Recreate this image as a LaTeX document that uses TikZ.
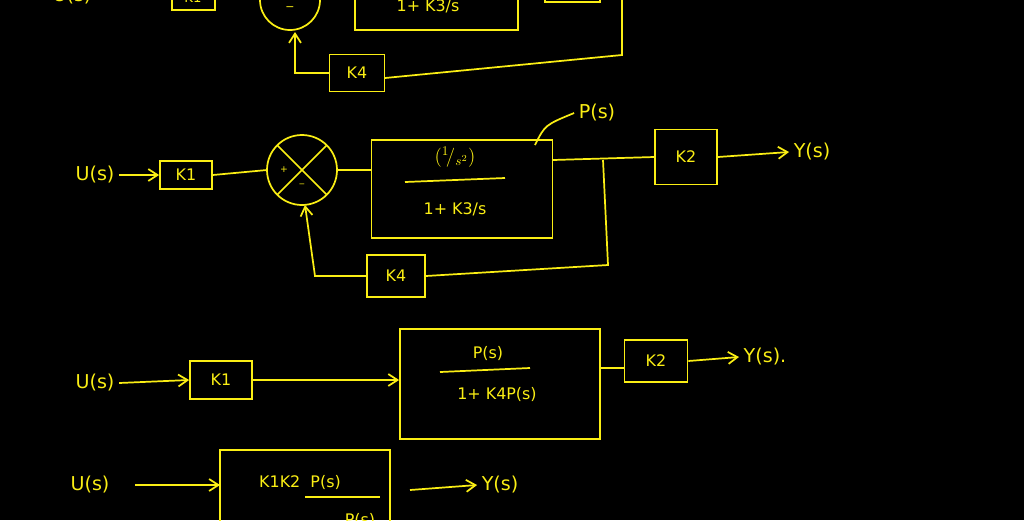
\documentclass[tikz,border=0pt]{standalone}
\usepackage{fontspec}
\setmainfont{DejaVu Sans}
\usetikzlibrary{arrows.meta}
\definecolor{hy}{RGB}{250,238,20}
\begin{document}
\begin{tikzpicture}[x=0.0265cm,y=-0.0265cm,
  ln/.style={draw=hy,line width=1.3pt},
  ar/.style={ln,-{Straight Barb[length=7pt,width=9pt]}},
  blk/.style={draw=hy,line width=1.3pt,text=hy,inner sep=0pt,font=\large},
  lbl/.style={text=hy,font=\Large}]
\fill[black] (0,0) rectangle (1024,520);
\useasboundingbox (0,0) rectangle (1024,520);
\begin{scope}
\clip (0,0) rectangle (1024,520);
% ---- top (cut) ----
\node[lbl] (u0) at (72,-4) {U(s)};
\draw[ln] (172,-12) rectangle (215,10);
\node[text=hy] (k10) at (193,-2) {K1};
\draw[ln] (290,0) circle (30);
\node[text=hy] (m0) at (290,6) {\_};
\draw[ln] (355,-20) rectangle (518,30);
\node[text=hy,font=\large] (t0) at (428,6) {1+ K3/s};
\draw[ln] (545,-10) rectangle (600,2);
\draw[ln] (600,-5) -- (622,-5) -- (622,55) -- (385,78);
\node[blk,minimum width=55*0.0265cm,minimum height=37*0.0265cm] (k40) at (357,73) {K4};
\draw[ar] (k40.west) -- (295,73) -- (295,32);
% ---- middle ----
\node[lbl] (u1) at (95,175) {U(s)};
\node[blk,minimum width=52*0.0265cm,minimum height=28*0.0265cm] (k11) at (186,175) {K1};
\draw[ar] (u1.east) -- (k11.west);
\coordinate (c1) at (302,170);
\draw[ln] (c1) circle (35);
\draw[ln] (277,145) -- (327,195) (277,195) -- (327,145);
\node[text=hy,font=\scriptsize] at (284,170) {+};
\node[text=hy,font=\scriptsize] at (302,184) {\_};
\draw[ln] (k11.east) -- (267,170);
\node[blk,minimum width=181*0.0265cm,minimum height=98*0.0265cm] (g1) at (462,189) {};
\node[text=hy,font=\Large] at (455,157) {$(^1\!/_{s^2})$};
\draw[ln] (405,182) -- (505,178);
\node[text=hy,font=\large] at (455,209) {1+ K3/s};
\draw[ln] (337,170) -- (g1.west|-c1);
\node[lbl] (p1) at (597,113) {P(s)};
\draw[ln] (535,145) .. controls (545,125) .. (p1.west);
\node[blk,minimum width=62*0.0265cm,minimum height=55*0.0265cm] (k21) at (686,157) {K2};
\draw[ln] (553,160) -- (k21.west);
\node[lbl] (y1) at (812,152) {Y(s)};
\draw[ar] (k21.east) -- (y1.west);
\node[blk,minimum width=58*0.0265cm,minimum height=42*0.0265cm] (k41) at (396,276) {K4};
\draw[ln] (603,160) -- (608,265) -- (k41.east);
\draw[ar] (k41.west) -- (315,276) -- (305,205);
% ---- third ----
\node[lbl] (u2) at (95,383) {U(s)};
\node[blk,minimum width=62*0.0265cm,minimum height=38*0.0265cm] (k12) at (221,380) {K1};
\draw[ar] (u2.east) -- (k12.west);
\node[blk,minimum width=200*0.0265cm,minimum height=110*0.0265cm] (g2) at (500,384) {};
\node[text=hy,font=\large] at (488,354) {P(s)};
\draw[ln] (440,372) -- (530,368);
\node[text=hy,font=\large] at (497,395) {1+ K4P(s)};
\draw[ar] (k12.east) -- (g2.west|-k12.east);
\node[blk,minimum width=63*0.0265cm,minimum height=42*0.0265cm] (k22) at (656,361) {K2};
\draw[ln] (600,368) -- (k22.west|-600,368);
\node[lbl] (y2) at (765,357) {Y(s).};
\draw[ar] (k22.east) -- (y2.west);
% ---- bottom ----
\node[lbl] (u3) at (90,485) {U(s)};
\draw[ln] (220,450) rectangle (390,540);
\coordinate (g3w) at (220,485);
\coordinate (a3) at (135,485);
\node[text=hy,font=\large] at (300,482) {K1K2\ \ P(s)};
\draw[ln] (305,497) -- (380,497);
\node[text=hy,font=\large] at (360,520) {P(s)};
\draw[ar] (a3) -- (g3w);
\node[lbl] (y3) at (500,485) {Y(s)};
\coordinate (a4) at (410,490);
\draw[ar] (a4) -- (y3.west);
\end{scope}
\end{tikzpicture}
\end{document}
